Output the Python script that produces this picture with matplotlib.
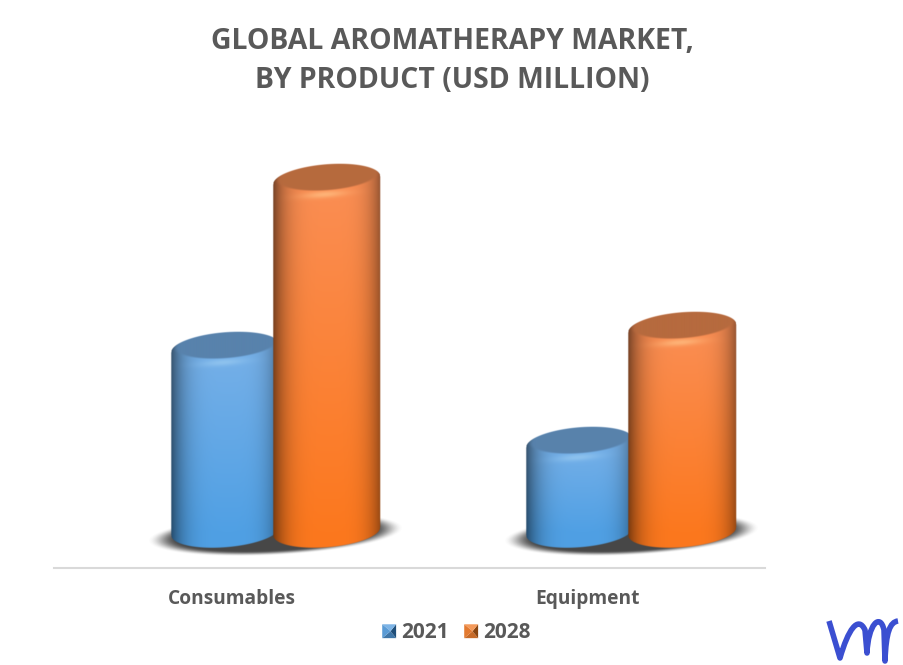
import numpy as np
import matplotlib
matplotlib.use("Agg")
import matplotlib.pyplot as plt
from matplotlib.path import Path
from matplotlib.patches import PathPatch, Polygon
from matplotlib.legend_handler import HandlerBase

# values (arbitrary units, no axis in the original)
categories = ["Consumables", "Equipment"]
years = ["2021", "2028"]
values_2021 = [183, 88]
values_2028 = [351, 203]

title = "GLOBAL AROMATHERAPY MARKET,\nBY PRODUCT (USD MILLION)"
text_grey = "#595959"
font = "Open Sans"

W, H = 904, 665
PX_PER_CAT = 355.5
A = 53.5     # cylinder half width, px
B = 16.0     # ellipse half height, px
TILT = 0.075
BAR_W = 102 / PX_PER_CAT
DEPTH = 43.5 / PX_PER_CAT

blue = dict(top=(118, 176, 232), bottom=(80, 160, 228), cap=(88, 130, 172), rim=(150, 200, 240))
orange = dict(top=(250, 142, 84), bottom=(252, 120, 30), cap=(182, 106, 62), rim=(255, 190, 130))


def smooth(t):
    t = np.clip(t, 0, 1)
    return t * t * (3 - 2 * t)


def draw_cylinder(ax, xc, value, pal, z):
    half = A / PX_PER_CAT
    us = np.arange(-A - 2, A + 2, 0.5)
    ys = np.arange(value + B + 10, -B - 10, -0.5)
    u, y = np.meshgrid(us, ys)
    s = np.sqrt(np.clip(1 - np.abs(u / A) ** 2.0, 0, 1))
    top_edge = value + TILT * u + B * s
    bot_edge = TILT * u - B * s
    alpha = np.clip(top_edge - y + .5, 0, 1) * np.clip(y - bot_edge + .5, 0, 1)
    alpha *= np.clip((A - np.abs(u)) + .5, 0, 1)

    frac = np.clip(1 - y / max(value, 1), 0, 1)[..., None]
    col = np.array(pal["top"]) * (1 - frac) + np.array(pal["bottom"]) * frac
    # darker at both sides, the right one a bit more
    t = (u - 3) / A
    side = 1 - np.where(t > 0, 0.5, 0.42) * np.abs(t) ** 4
    col = col * side[..., None]

    # slanted cap on top with a lit rim under it
    r = np.sqrt(((u - 1) / (A * 0.95)) ** 2 + ((y - value - TILT * u - 3.5) / (B * 0.86)) ** 2)
    cap = 1 - smooth((r - 0.9) / 0.14)
    rim = np.exp(-((u + 2) / 22) ** 2 - ((y - (value + TILT * u - B + 2)) / 3.5) ** 2)
    col = col + (np.array(pal["rim"]) - col) * (0.75 * rim)[..., None]
    col = col + (np.array(pal["cap"]) - col) * cap[..., None]

    img = np.dstack([np.clip(col, 0, 255) / 255, alpha])
    ax.imshow(img, extent=(xc - half - 2 / PX_PER_CAT, xc + half + 2 / PX_PER_CAT, ys[-1], ys[0]),
              aspect="auto", interpolation="bilinear", interpolation_stage="rgba", zorder=z)


def draw_shadow(ax, xc, z):
    half = 132 / PX_PER_CAT
    us = np.arange(-134, 134, 1.0)
    ys = np.arange(30, -30, -0.5)
    u, y = np.meshgrid(us, ys)
    r = np.sqrt((u / 130) ** 2 + ((y - 0.05 * u + 3) / 21) ** 2)
    alpha = (1 - smooth((r - 0.76) / 0.24)) * 0.95
    img = np.dstack([np.full(u.shape + (3,), 0.24), alpha])
    ax.imshow(img, extent=(xc - half, xc + half, ys[-1], ys[0]), aspect="auto",
              interpolation="bilinear", interpolation_stage="rgba", zorder=z)


class PyramidHandler(HandlerBase):
    def create_artists(self, legend, orig, x0, y0, width, height, fontsize, trans):
        pal = orig.pal
        s = 10
        x0 = x0 + (width - s) / 2
        y0 = y0 + (height - s) / 2
        a, b = (x0, y0), (x0 + s, y0)
        c, d = (x0 + s, y0 + s), (x0, y0 + s)
        m = (x0 + s * .6, y0 + s * .5)
        faces = [([a, b, m], pal[0]), ([b, c, m], pal[1]), ([c, d, m], pal[2]), ([d, a, m], pal[3])]
        return [Polygon(p, closed=True, fc=f, ec="none", transform=trans) for p, f in faces]


fig = plt.figure(figsize=(W / 100, H / 100), dpi=100)
ax = fig.add_axes([54 / W, (H - 568) / H, (765 - 54) / W, (568 - 100) / H])
ax.patch.set_alpha(0)

x = np.arange(len(categories))
for i in x:
    left = i + DEPTH - BAR_W / 2
    right = i + DEPTH + BAR_W / 2
    draw_shadow(ax, i + DEPTH, 1)
    draw_cylinder(ax, left, values_2021[i], blue, 2)
    draw_cylinder(ax, right, values_2028[i], orange, 3)

ax.set_xlim(-0.5, 1.5)
ax.set_ylim(-36, 432)
ax.set_yticks([])
ax.set_xticks(x)
ax.set_xticklabels(categories, fontfamily=font, fontweight="bold", fontsize=13.8, color=text_grey)
ax.tick_params(axis="x", length=0, pad=15)
for side in ["top", "left", "right"]:
    ax.spines[side].set_visible(False)
ax.spines["bottom"].set_color("#d9d9d9")
ax.spines["bottom"].set_linewidth(1.5)

fig.text(0.5, 1 - 61 / H, title, ha="center", va="center", fontfamily=font, fontweight="bold",
         fontsize=20.4, color=text_grey, linespacing=1.48)

h1 = Polygon([[0, 0]])
h1.pal = ["#3f76a8", "#1f4e79", "#7db4e6", "#5a9bd5"]
h2 = Polygon([[0, 0]])
h2.pal = ["#c76a28", "#8a4510", "#f59a5a", "#e37a30"]
fig.legend([h1, h2], years, handler_map={Polygon: PyramidHandler()}, loc="center",
           bbox_to_anchor=(456 / W, 1 - 633 / H), ncol=2, frameon=False, columnspacing=0.7,
           handletextpad=0.2, handlelength=0.75,
           prop=dict(family=font, weight="bold", size=15), labelcolor=text_grey)

# logo
logo = fig.add_axes([0, 0, 1, 1], zorder=5)
logo.set_xlim(0, W)
logo.set_ylim(H, 0)
logo.axis("off")
verts = [(829, 621), (840, 658),
         (848, 630), (858, 615), (865, 630), (867, 653),
         (868, 625), (880, 612), (884, 630), (885, 661),
         (886, 632), (890, 622), (898, 621)]
codes = [Path.MOVETO, Path.LINETO,
         Path.CURVE4, Path.CURVE4, Path.CURVE4, Path.LINETO,
         Path.CURVE4, Path.CURVE4, Path.CURVE4, Path.LINETO,
         Path.CURVE4, Path.CURVE4, Path.CURVE4]
logo.add_patch(PathPatch(Path(verts, codes), fc="none", ec="#3b4fd1", lw=4, capstyle="butt", joinstyle="round"))

fig.savefig("out.png", dpi=100)
